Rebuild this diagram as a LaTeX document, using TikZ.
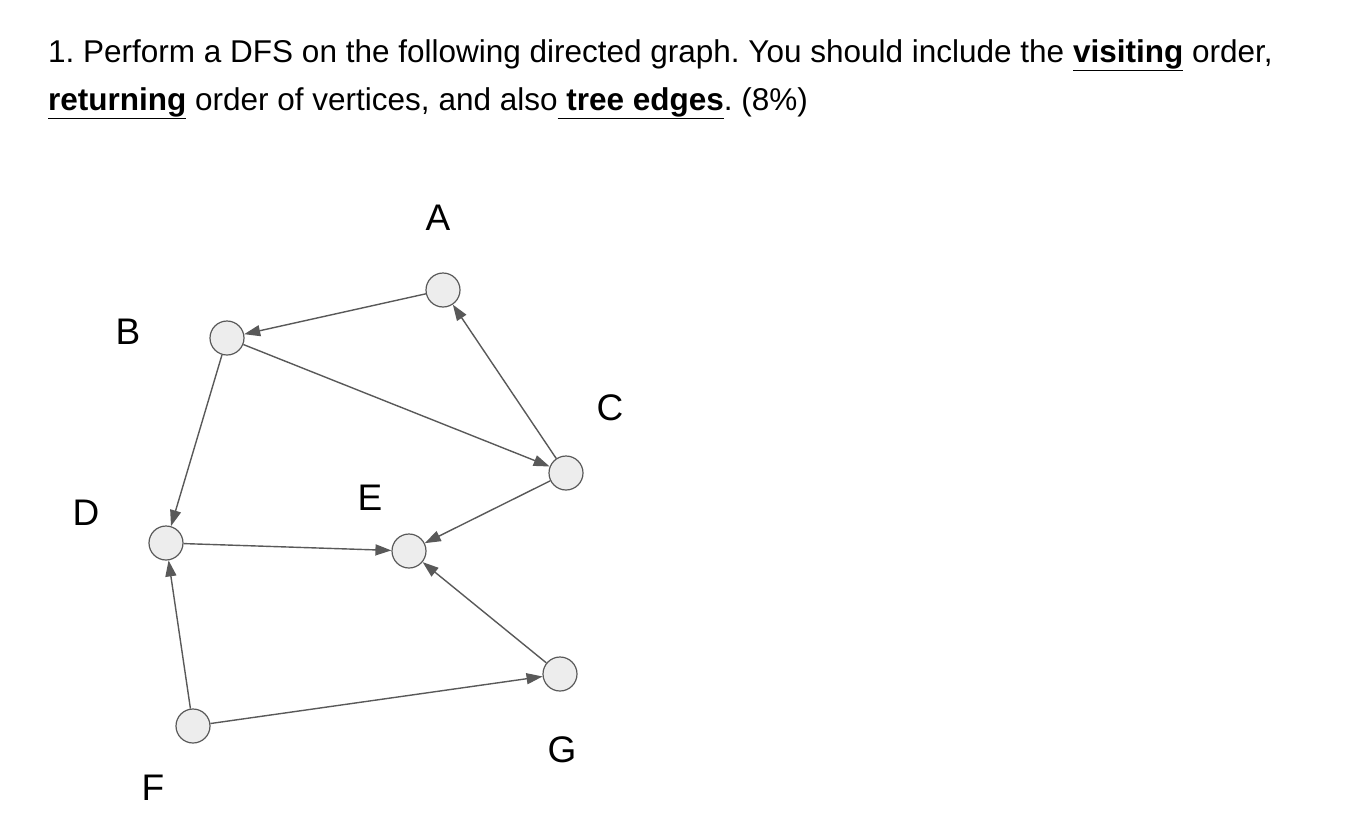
\documentclass[tikz,border=0pt]{standalone}
\usepackage{fontspec}
\setmainfont{Liberation Sans}
\usetikzlibrary{arrows.meta}
\begin{document}
\frenchspacing
\begin{tikzpicture}[x=1pt,y=-1pt,
  vert/.style={circle,draw=black!65,fill=black!7,line width=1.2pt,minimum size=34pt,inner sep=0pt},
  lab/.style={font=\fontsize{37}{37}\selectfont},
  edge/.style={draw=black!65,line width=1.4pt,-{Triangle[length=16pt,width=11pt]}}]
\useasboundingbox (0,0) rectangle (1350,830);
\node[anchor=base west,inner sep=0pt,font=\fontsize{31.5}{31.5}\selectfont] (t1) at (48,62) {1. Perform a DFS on the following directed graph. You should include the \underline{\textbf{visiting}} order,};
\node[anchor=base west,inner sep=0pt,font=\fontsize{31.5}{31.5}\selectfont] (t2) at (48,110) {\underline{\textbf{returning}} order of vertices, and also\underline{\textbf{\ tree edges}}. (8\%)};
\node[vert] (A) at (443,290) {};
\node[vert] (B) at (227,338) {};
\node[vert] (C) at (566,473) {};
\node[vert] (D) at (166,543) {};
\node[vert] (E) at (409,551) {};
\node[vert] (F) at (193,726) {};
\node[vert] (G) at (560,674) {};
\node[lab] (lA) at (438,218) {A};
\node[lab] (lB) at (128,332) {B};
\node[lab] (lC) at (610,408) {C};
\node[lab] (lD) at (86,513) {D};
\node[lab] (lE) at (370,498) {E};
\node[lab] (lF) at (153,788) {F};
\node[lab] (lG) at (562,750) {G};
\draw[edge] (A) -- (B);
\draw[edge] (B) -- (C);
\draw[edge] (C) -- (A);
\draw[edge] (B) -- (D);
\draw[edge] (C) -- (E);
\draw[edge] (D) -- (E);
\draw[edge] (G) -- (E);
\draw[edge] (F) -- (D);
\draw[edge] (F) -- (G);
\end{tikzpicture}
\end{document}
